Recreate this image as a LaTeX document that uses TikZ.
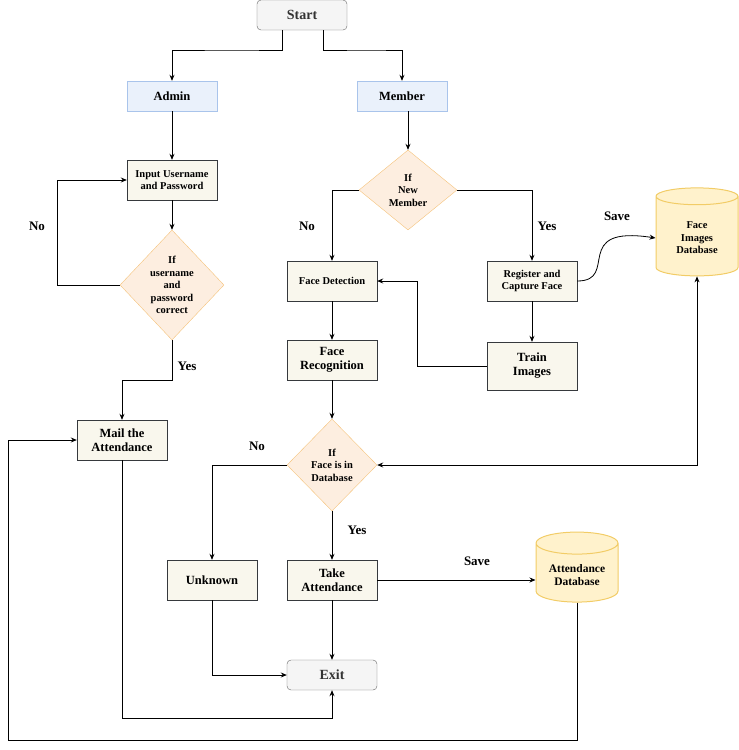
\documentclass[tikz,border=0pt]{standalone}
\usepackage{fontspec}
\setmainfont{Liberation Serif}
\usetikzlibrary{shapes.geometric,arrows.meta}
\definecolor{grayf}{HTML}{F5F5F5}\definecolor{grayd}{HTML}{666666}
\definecolor{bluef}{HTML}{EAF1FB}\definecolor{blued}{HTML}{A9C4EB}
\definecolor{beigef}{HTML}{F9F7ED}\definecolor{beiged}{HTML}{36393D}
\definecolor{peachf}{HTML}{FDEEE0}\definecolor{peachd}{HTML}{F5C27A}
\definecolor{dbf}{HTML}{FFF2CC}\definecolor{dbd}{HTML}{F2CC66}
\begin{document}
\begin{tikzpicture}[x=1pt,y=-1pt,font=\bfseries\fontsize{12.5}{14}\selectfont,
  box/.style={draw=beiged,fill=beigef,minimum width=90pt,minimum height=40pt,align=center,inner sep=1pt},
  term/.style={draw=grayd,fill=grayf,rounded corners=4pt,minimum width=90pt,minimum height=30pt,text=black!80,font=\bfseries\fontsize{14}{16}\selectfont},
  role/.style={draw=blued,fill=bluef,minimum width=90pt,minimum height=30pt},
  dia/.style={diamond,draw=peachd,fill=peachf,align=center,inner sep=0pt,aspect=1},
  db/.style={cylinder,shape border rotate=90,draw=dbd,fill=dbf,line width=1pt,align=center,minimum width=82pt,aspect=0.35},
  arr/.style={-{Stealth[length=6pt,width=5pt]},line width=0.8pt},
  lbl/.style={font=\bfseries\fontsize{13}{15}\selectfont},
  sm/.style={font=\bfseries\fontsize{10.5}{12.5}\selectfont}]
\useasboundingbox (0,0) rectangle (739,750);
\node[term] (start) at (302,15) {Start};
\node[role] (admin) at (172,96) {Admin};
\node[role] (member) at (402,96) {Member};
\node[box,sm] (input) at (172,180) {Input Username\\and Password};
\node[dia,sm,minimum width=104pt,minimum height=110pt] (d1) at (172,285) {If\\username\\and\\password\\correct};
\node[dia,sm,minimum width=98pt,minimum height=80pt] (d2) at (408,190) {If\\New\\Member};
\node[box,sm] (fd) at (332,281) {Face Detection};
\node[box,sm] (reg) at (532,281) {Register and\\Capture Face};
\node[db,sm,minimum height=88pt] (fdb) at (697,238) {Face\\Images\\Database};
\node[box] (fr) at (332,360) {Face\\Recognition};
\node[box,minimum height=48pt] (train) at (532,366) {Train\\Images};
\node[box] (mail) at (122,440) {Mail the\\Attendance};
\node[dia,sm,minimum width=90pt,minimum height=92pt] (d3) at (332,465) {If\\Face is in\\Database};
\node[box] (unk) at (212,580) {Unknown};
\node[box] (take) at (332,580) {Take\\Attendance};
\node[db,minimum height=70pt,font=\bfseries\fontsize{11.5}{13.5}\selectfont] (adb) at (577,575) {Attendance\\Database};
\node[term] (exit) at (332,675) {Exit};
\coordinate (s1) at (282,30); \coordinate (s2) at (323,30);
\draw[arr] (s1) |- (236,50) -| (admin.north);
\draw[arr] (s2) |- (370,50) -| (member.north);
\draw[arr] (admin) -- (input);
\draw[arr] (input) -- (d1);
\draw[arr] (d1.west) -- (57,285) |- (input.west);
\node[lbl] at (37,226) {No};
\draw[arr] (d1.south) |- (122,380) -- (mail.north);
\node[lbl] at (187,366) {Yes};
\draw[arr] (member.south -| d2.north) -- (d2.north);
\draw[arr] (d2.west) -| (fd.north);
\node[lbl] at (307,226) {No};
\draw[arr] (d2.east) -| (reg.north);
\node[lbl] at (547,226) {Yes};
\draw[arr] (reg.east) .. controls (620,281) and (570,225) .. (fdb.west);
\node[lbl] at (617,216) {Save};
\draw[arr] (reg) -- (train);
\draw[arr] (train.west) -| (417,281) -- (fd.east);
\draw[arr] (fd) -- (fr);
\draw[arr] (fr) -- (d3);
\draw[arr,{Stealth[length=6pt,width=5pt]}-{Stealth[length=6pt,width=5pt]}] (d3.east) -| (fdb.south);
\draw[arr] (d3.west) -| (unk.north);
\node[lbl] at (257,446) {No};
\draw[arr] (d3) -- (take);
\node[lbl] at (357,530) {Yes};
\draw[arr] (take.east) -- (take.east -| adb.west);
\node[lbl] at (477,561) {Save};
\draw[arr] (take) -- (exit);
\draw[arr] (unk.south) |- (exit.west);
\draw[arr] (mail.south) |- (332,718) -- (exit.south);
\draw[arr] (adb.south) |- (8,740) |- (mail.west);
\end{tikzpicture}
\end{document}
